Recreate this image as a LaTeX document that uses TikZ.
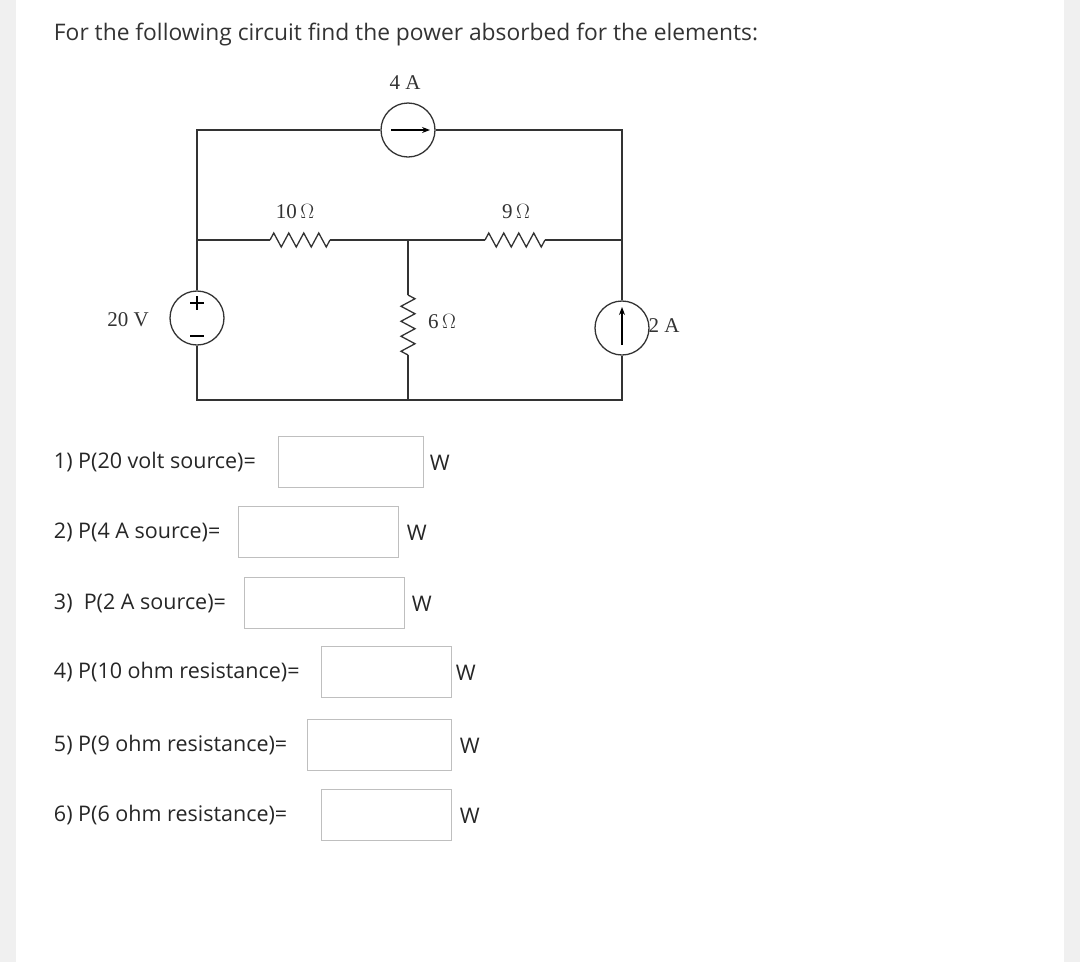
\documentclass[tikz,border=0pt]{standalone}
\usepackage{fontspec}
\setmainfont{Open Sans}
\newfontfamily\cktfont{Liberation Serif}
\usetikzlibrary{decorations.pathmorphing,arrows.meta}
\begin{document}
\begin{tikzpicture}[x=1pt,y=-1pt,line width=1.3pt,
  wire/.style={draw=black!80},
  res/.style={decorate,decoration={zigzag,segment length=15,amplitude=7}},
  src/.style={circle,draw=black!80,minimum size=54,inner sep=0},
  lab/.style={font=\cktfont\fontsize{21}{24}\selectfont,text=black!80},
  form/.style={font=\fontsize{21.5}{24}\selectfont,text=black!85,anchor=west},
  ans/.style={draw=black!25,line width=1pt,fill=white}]
\useasboundingbox (0,0) rectangle (1080,962);
\fill[black!6] (0,0) rectangle (1080,962);
\fill[white] (16,0) rectangle (1064,962);
\node[anchor=west,font=\fontsize{22.8}{26}\selectfont,text=black!80] (title) at (50,35) {For the following circuit find the power absorbed for the elements:};
% circuit
\node[src] (I4) at (408,130) {};
\node[src] (V20) at (197,318) {};
\node[src] (I2) at (622,328) {};
\coordinate (a1) at (391,130); \coordinate (a2) at (430,130);
\coordinate (b1) at (622,345); \coordinate (b2) at (622,307);
\draw[-{Stealth[length=8,width=6]},line width=1.1pt] (a1) -- (a2);
\draw[-{Stealth[length=8,width=6]},line width=1.1pt] (b1) -- (b2);
\draw[line width=1.3pt] (197,296) -- (197,310) (190,303) -- (204,303) (190,336) -- (204,336);
\coordinate (tl) at (197,130); \coordinate (tr) at (622,130);
\coordinate (ml) at (197,240); \coordinate (mm) at (408,240); \coordinate (mr) at (622,240);
\coordinate (bl) at (197,400); \coordinate (bm) at (408,400); \coordinate (br) at (622,400);
\coordinate (r10a) at (270,240); \coordinate (r10b) at (330,240);
\coordinate (r9a) at (485,240); \coordinate (r9b) at (545,240);
\coordinate (r6a) at (408,295); \coordinate (r6b) at (408,355);
\draw[wire] (I4) -- (tl) -- (V20);
\draw[wire] (I4) -- (tr) -- (I2);
\draw[wire] (V20) -- (bl) -- (br) -- (I2);
\draw[wire] (ml) -- (r10a); \draw[wire,res] (r10a) -- (r10b); \draw[wire] (r10b) -- (mm) -- (r9a);
\draw[wire,res] (r9a) -- (r9b); \draw[wire] (r9b) -- (mr);
\draw[wire] (mm) -- (r6a); \draw[wire,res] (r6a) -- (r6b); \draw[wire] (r6b) -- (bm);
\node[lab] (l4) at (405,83) {4 A};
\node[lab] (l10) at (295,212) {10\,$\Omega$};
\node[lab] (l9) at (516,212) {9\,$\Omega$};
\node[lab] (l6) at (442,322) {6\,$\Omega$};
\node[lab] (l20) at (128,320) {20 V};
\node[lab] (l2) at (664,326) {2 A};
% form
\foreach \n/\t/\y/\a/\b/\w in {1/{1) P(20 volt source)=}/462/278/423/440,
  2/{2) P(4 A source)=}/532/238/398/417,
  3/{3)\ \ P(2 A source)=}/603/244/404/422,
  4/{4) P(10 ohm resistance)=}/672/321/451/466,
  5/{5) P(9 ohm resistance)=}/745/307/451/470,
  6/{6) P(6 ohm resistance)=}/815/321/451/470}{
  \node[form] (q\n) at (50,\y) {\t};
  \draw[ans] (\a,\y-26) rectangle (\b,\y+25);
  \node[form] (w\n) at (\w-14,\y+1) {W};
}
\end{tikzpicture}
\end{document}
